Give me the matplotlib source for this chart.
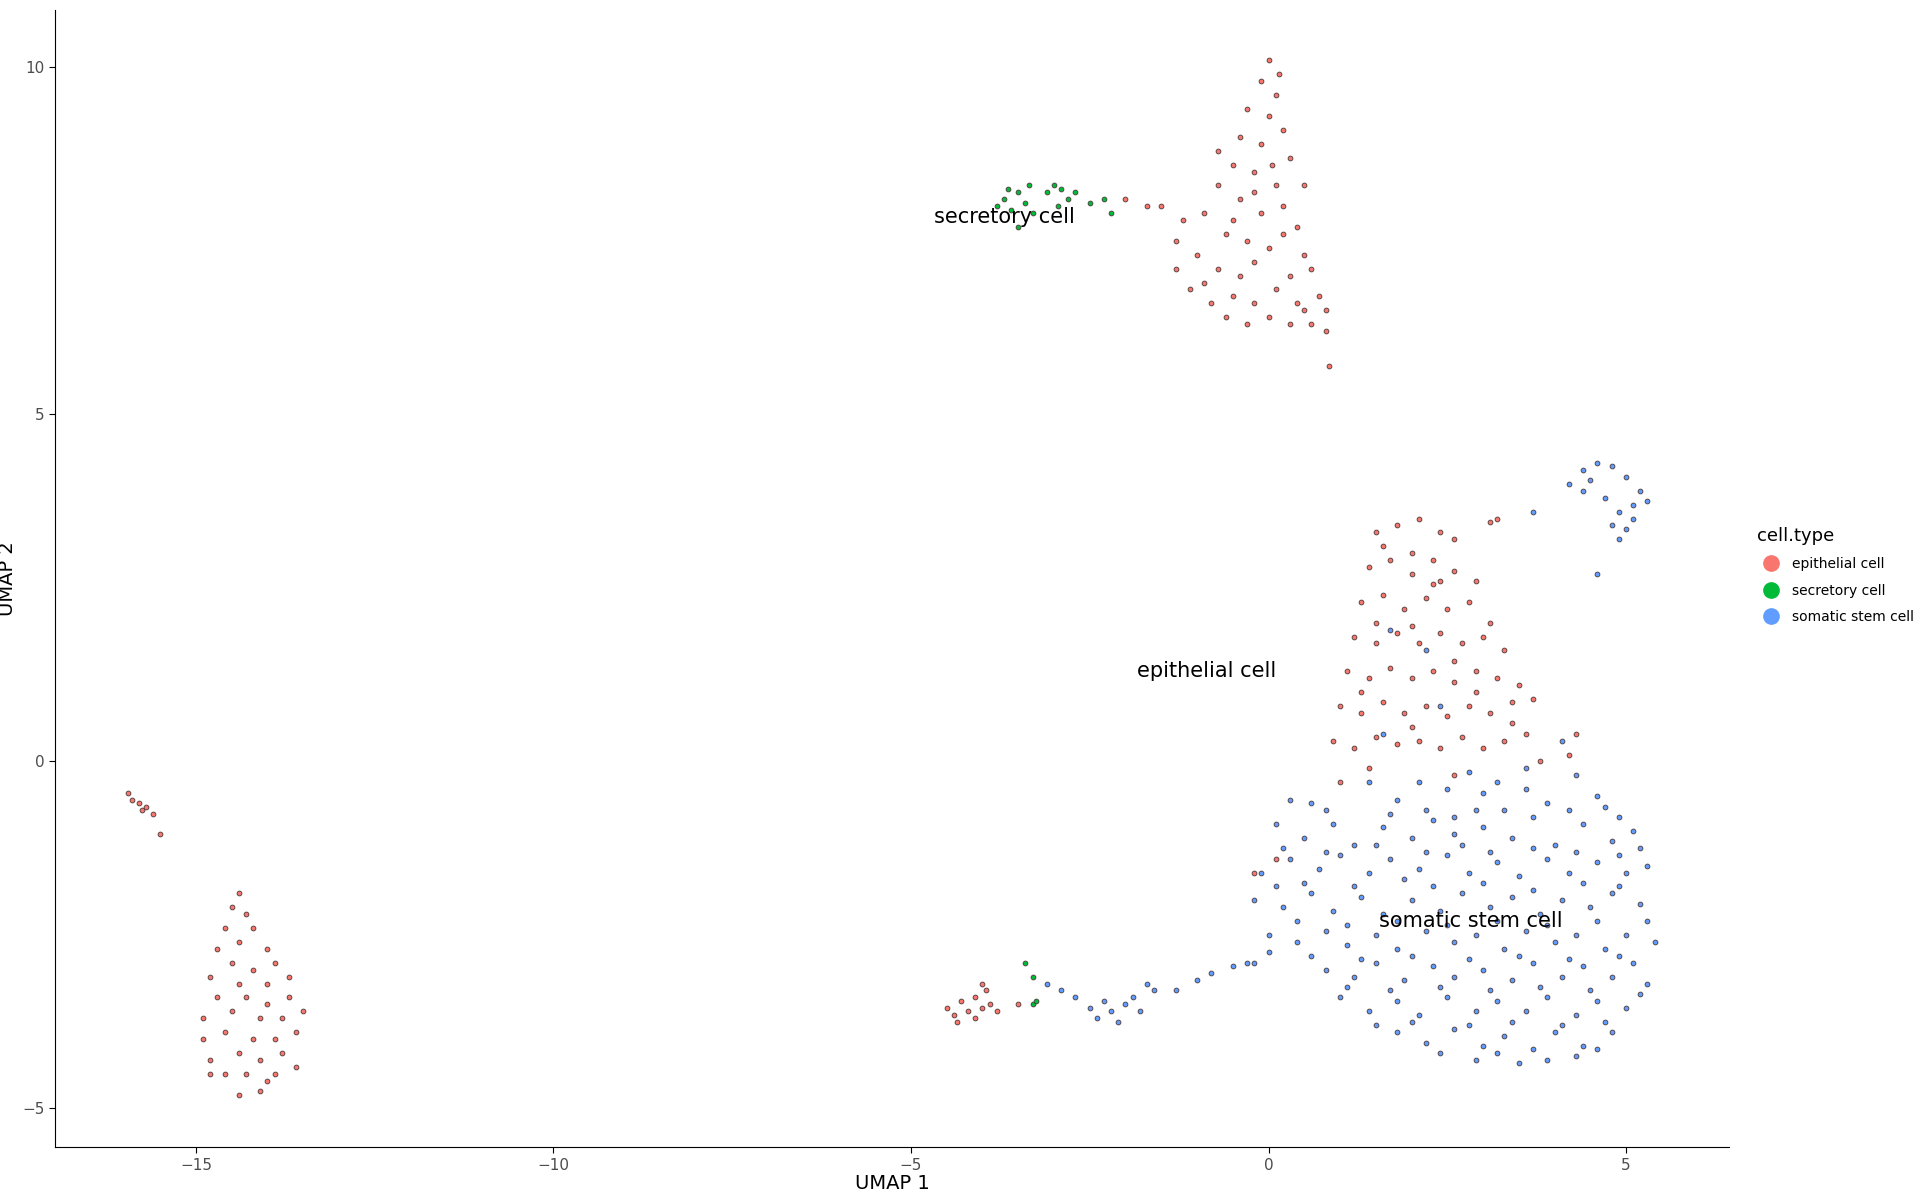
#!/usr/bin/env python3
"""UMAP scatter of cells coloured by cell type."""

import matplotlib

matplotlib.use("Agg")
import matplotlib.pyplot as plt
import numpy as np


def parse(text):
    pts = [p.split(",") for p in text.split()]
    return np.array(pts, dtype=float)


stem_xy = parse("""
0.3,-0.55 0.6,-0.6 1.4,-0.3 1.8,-0.55 2.5,-0.4 3.2,-0.3 3.6,-0.1 4.1,0.3 4.3,-0.2 4.6,-0.5 4.9,-0.8 3.9,-0.6 2.9,-0.7
0.1,-0.9 0.5,-1.1 0.9,-0.9 1.2,-1.2 1.6,-0.95 2.0,-1.1 2.3,-0.85 2.7,-1.2 3.0,-0.95 3.4,-1.1 3.7,-0.8 4.0,-1.2 4.4,-0.9 4.8,-1.15 5.1,-1.0
-0.1,-1.6 0.3,-1.4 0.7,-1.55 1.0,-1.35 1.4,-1.6 1.7,-1.4 2.1,-1.55 2.5,-1.35 2.8,-1.6 3.2,-1.45 3.5,-1.65 3.9,-1.4 4.2,-1.6 4.6,-1.45 5.0,-1.6 5.3,-1.5
-0.2,-2.0 0.2,-2.1 0.6,-1.9 0.9,-2.15 1.3,-1.95 1.6,-2.2 2.0,-2.0 2.4,-2.15 2.7,-1.9 3.1,-2.1 3.4,-1.95 3.8,-2.2 4.1,-2.0 4.5,-2.1 4.8,-1.9 5.2,-2.05
0.0,-2.5 0.4,-2.6 0.8,-2.45 1.1,-2.65 1.5,-2.5 1.8,-2.7 2.2,-2.45 2.6,-2.6 2.9,-2.5 3.3,-2.7 3.6,-2.45 4.0,-2.6 4.3,-2.5 4.7,-2.7 5.0,-2.5 5.4,-2.6
0.8,-3.0 1.2,-3.1 1.5,-2.9 1.9,-3.15 2.3,-2.95 2.6,-3.1 3.0,-3.0 3.4,-3.15 3.7,-2.9 4.1,-3.1 4.4,-2.95 4.8,-3.1 5.1,-2.9 5.3,-3.2
1.0,-3.4 1.4,-3.6 1.8,-3.45 2.1,-3.65 2.5,-3.4 2.9,-3.6 3.2,-3.45 3.6,-3.6 3.9,-3.4 4.3,-3.65 4.6,-3.45 5.0,-3.55
1.8,-3.9 2.2,-4.05 2.6,-3.85 3.0,-4.1 3.3,-3.95 3.7,-4.15 4.0,-3.9 4.4,-4.1 4.8,-3.9
2.9,-4.3 3.5,-4.35 3.9,-4.3 4.3,-4.25
0.8,-0.7 1.7,-0.75 2.2,-0.7 2.6,-0.8 3.3,-0.7 4.2,-0.7 4.7,-0.65 3.6,-0.4 2.8,-0.15 2.1,-0.3 3.0,-0.45
0.2,-1.25 0.8,-1.3 1.5,-1.2 2.2,-1.3 2.6,-1.05 3.1,-1.3 3.7,-1.25 4.3,-1.3 4.9,-1.35 5.2,-1.25
0.1,-1.8 0.5,-1.75 1.2,-1.8 1.9,-1.7 2.3,-1.8 3.0,-1.75 3.7,-1.85 4.4,-1.75 4.9,-1.8
0.4,-2.3 1.1,-2.35 1.8,-2.3 2.5,-2.35 3.2,-2.3 3.9,-2.35 4.6,-2.3 5.3,-2.3
0.6,-2.8 1.3,-2.85 2.0,-2.8 2.8,-2.85 3.5,-2.8 4.2,-2.85 4.9,-2.8
1.1,-3.25 1.7,-3.3 2.4,-3.25 3.1,-3.3 3.8,-3.25 4.5,-3.3 5.2,-3.35
1.5,-3.8 2.0,-3.75 2.8,-3.8 3.4,-3.75 4.1,-3.8 4.7,-3.75
2.4,-4.2 3.2,-4.2 4.6,-4.15
-3.1,-3.2 -2.9,-3.3 -2.7,-3.4 -2.5,-3.55 -2.3,-3.45 -2.2,-3.6 -2.0,-3.5 -2.1,-3.75 -1.9,-3.4 -1.8,-3.6
-1.6,-3.3 -1.3,-3.3 -1.0,-3.15 -0.8,-3.05 -0.5,-2.95 -0.3,-2.9 0.0,-2.75 -0.2,-2.9 -2.4,-3.7 -1.7,-3.2
4.2,4.0 4.4,4.2 4.6,4.3 4.8,4.25 5.0,4.1 5.2,3.9 5.3,3.75 5.1,3.7 4.9,3.6 4.8,3.4 4.9,3.2 5.1,3.5
4.7,3.8 4.4,3.9 4.6,2.7 3.7,3.6 4.5,4.05 5.0,3.35
1.7,1.9 2.2,1.6 2.4,0.8 1.6,0.4
""")

epithelial_xy = parse("""
1.5,3.3 1.8,3.4 2.1,3.5 2.4,3.3 2.6,3.2 3.2,3.5
1.4,2.8 1.7,2.9 2.0,2.7 2.3,2.9 2.6,2.75 2.9,2.6
1.3,2.3 1.6,2.4 1.9,2.2 2.2,2.35 2.5,2.2 2.8,2.3 3.1,2.0
1.2,1.8 1.5,1.7 1.8,1.85 2.1,1.7 2.4,1.85 2.7,1.7 3.0,1.8 3.3,1.6
1.1,1.3 1.4,1.2 1.7,1.35 2.0,1.2 2.3,1.3 2.6,1.15 2.9,1.3 3.2,1.2 3.5,1.1
1.0,0.8 1.3,0.7 1.6,0.85 1.9,0.7 2.2,0.8 2.5,0.65 2.8,0.8 3.1,0.7 3.4,0.85 3.7,0.9
0.9,0.3 1.2,0.2 1.5,0.35 1.8,0.25 2.1,0.3 2.4,0.2 2.7,0.35 3.0,0.2 3.3,0.3 3.6,0.4 4.2,0.1
1.0,-0.3 1.4,-0.1 2.6,-0.2 3.8,0.0 4.3,0.4
1.6,3.1 2.0,3.0 2.3,2.55 1.5,2.0 2.0,1.95 2.6,1.45 1.3,1.0 2.0,0.5 2.9,1.0 3.4,0.55 2.4,2.6 3.1,3.45
0.1,-1.4 -0.2,-1.6
0.0,10.1 -0.1,9.8 0.1,9.6 -0.3,9.4 0.0,9.3 0.2,9.1 -0.4,9.0 -0.1,8.9 0.3,8.7 -0.5,8.6 -0.2,8.5
0.1,8.3 -0.7,8.3 0.5,8.3 -0.4,8.1 -0.1,7.9 0.2,8.0 -0.9,7.9 -1.2,7.8 0.4,7.7 -0.6,7.6 -0.3,7.5
0.0,7.4 -1.0,7.3 -1.3,7.1 -0.7,7.1 -0.4,7.0 0.3,7.0 0.6,7.1 -1.1,6.8 -0.8,6.6 -0.5,6.7 -0.2,6.6
0.1,6.8 0.4,6.6 0.7,6.7 -0.6,6.4 -0.3,6.3 0.0,6.4 0.3,6.3 0.5,6.5 0.8,6.5 0.8,6.2 -0.9,6.9
-0.2,7.2 0.2,7.6 -0.7,8.8 0.15,9.9 -0.2,8.2 0.6,6.3 0.85,5.7 -1.5,8.0 -2.0,8.1 -1.7,8.0 0.5,7.3
-1.3,7.5 -0.5,7.8 0.05,8.6
-14.4,-1.9 -14.5,-2.1 -14.3,-2.2 -14.6,-2.4 -14.2,-2.4 -14.4,-2.6 -14.7,-2.7 -14.0,-2.7 -14.5,-2.9
-14.2,-3.0 -13.9,-2.9 -14.8,-3.1 -14.4,-3.2 -14.0,-3.2 -13.7,-3.1 -14.7,-3.4 -14.3,-3.4 -14.0,-3.5
-13.7,-3.4 -14.9,-3.7 -14.5,-3.6 -14.1,-3.7 -13.8,-3.7 -13.5,-3.6 -14.9,-4.0 -14.6,-3.9 -14.2,-4.0
-13.9,-4.0 -13.6,-3.9 -14.8,-4.3 -14.4,-4.2 -14.1,-4.3 -13.8,-4.2 -14.6,-4.5 -14.3,-4.5 -14.0,-4.6
-14.4,-4.8 -14.1,-4.75 -13.9,-4.5 -14.8,-4.5 -13.6,-4.4
-15.95,-0.45 -15.9,-0.55 -15.8,-0.6 -15.75,-0.7 -15.7,-0.65 -15.6,-0.75 -15.5,-1.05
-4.5,-3.55 -4.4,-3.65 -4.3,-3.45 -4.2,-3.6 -4.1,-3.4 -4.0,-3.55 -3.95,-3.3 -3.9,-3.5 -3.8,-3.6
-4.35,-3.75 -4.1,-3.7 -4.0,-3.2 -3.5,-3.5
""")

secretory_xy = parse("""
-3.4,-2.9 -3.3,-3.1 -3.3,-3.5 -3.25,-3.45
-3.8,8.0 -3.7,8.1 -3.6,7.95 -3.5,8.2 -3.4,8.05 -3.35,8.3 -3.3,7.9 -3.5,7.7 -3.1,8.2
-2.9,8.25 -2.8,8.1 -2.7,8.2 -2.5,8.05 -2.3,8.1 -2.2,7.9 -3.0,8.3 -3.65,8.25 -2.95,8.0
""")

cell_types = ["epithelial cell", "secretory cell", "somatic stem cell"]
type_colors = ["#F8766D", "#00BA38", "#619CFF"]
label_pos = {"secretory cell": (-3.7, 7.85),
             "epithelial cell": (-0.86, 1.3),
             "somatic stem cell": (2.83, -2.3)}

# layout measured on a 1568 x 980 view of the reference
W, H = 1568, 980
fig = plt.figure(figsize=(19.2, 12), dpi=100)
ax = fig.add_axes([45 / W, 1 - 937 / H, (1412 - 45) / W, (937 - 8) / H])

for name, xy, color in zip(cell_types, [epithelial_xy, secretory_xy, stem_xy], type_colors):
    ax.scatter(xy[:, 0], xy[:, 1], s=12, c=color, edgecolors="#4a3a3a",
               linewidths=0.6, label=name, zorder=2)

for name, (x, y) in label_pos.items():
    ax.text(x, y, name, fontsize=15, ha="center", va="center", zorder=3)

ax.set_xlim(-16.97, 6.44)
ax.set_ylim(-5.56, 10.83)
ax.set_xticks([-15, -10, -5, 0, 5])
ax.set_yticks([-5, 0, 5, 10])
ax.tick_params(labelsize=11, labelcolor="#4d4d4d", length=4)
for side in ("top", "right"):
    ax.spines[side].set_visible(False)
ax.set_xlabel("UMAP 1", fontsize=14, labelpad=1)
ax.set_ylabel("UMAP 2", fontsize=14, labelpad=4)

handles = [plt.Line2D([], [], marker="o", ls="", markersize=11, color=c) for c in type_colors]
fig.legend(handles, cell_types, title="cell.type", loc="upper left",
           bbox_to_anchor=(1425 / W, 1 - 420 / H), frameon=False,
           fontsize=10, title_fontsize=13, alignment="left",
           handletextpad=0.5, labelspacing=0.9)

fig.savefig("out.png", dpi=100)
